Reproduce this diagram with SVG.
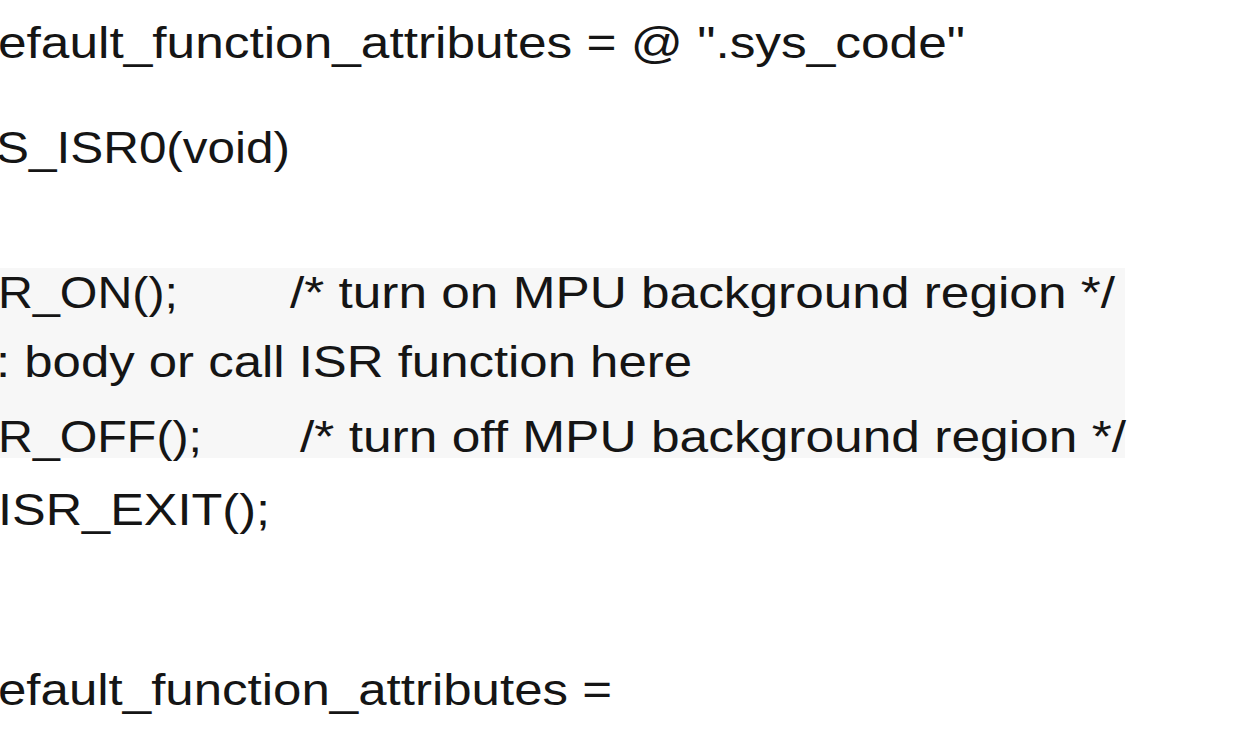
<svg xmlns="http://www.w3.org/2000/svg" width="1256" height="756" viewBox="0 0 1256 756">
<style>text{font-family:"Liberation Sans",Arial,sans-serif;font-size:44px;fill:#151515}</style>
<rect width="1256" height="756" fill="#fff"/>
<rect x="0" y="268" width="1125" height="190" fill="#f7f7f7"/>
<g id="code">
<text x="-2" y="58" textLength="967" lengthAdjust="spacingAndGlyphs">efault_function_attributes = @ ".sys_code"</text>
<text x="-4" y="163" textLength="294" lengthAdjust="spacingAndGlyphs">S_ISR0(void)</text>
<text x="-2" y="308" textLength="180" lengthAdjust="spacingAndGlyphs">R_ON();</text>
<text x="290" y="308" textLength="825" lengthAdjust="spacingAndGlyphs">/* turn on MPU background region */</text>
<text x="-4" y="377" textLength="696" lengthAdjust="spacingAndGlyphs">: body or call ISR function here</text>
<text x="-2" y="452" textLength="204" lengthAdjust="spacingAndGlyphs">R_OFF();</text>
<text x="300" y="452" textLength="826" lengthAdjust="spacingAndGlyphs">/* turn off MPU background region */</text>
<text x="-2" y="525" textLength="272" lengthAdjust="spacingAndGlyphs">ISR_EXIT();</text>
<text x="-2" y="705" textLength="614" lengthAdjust="spacingAndGlyphs">efault_function_attributes =</text>
</g>
</svg>
